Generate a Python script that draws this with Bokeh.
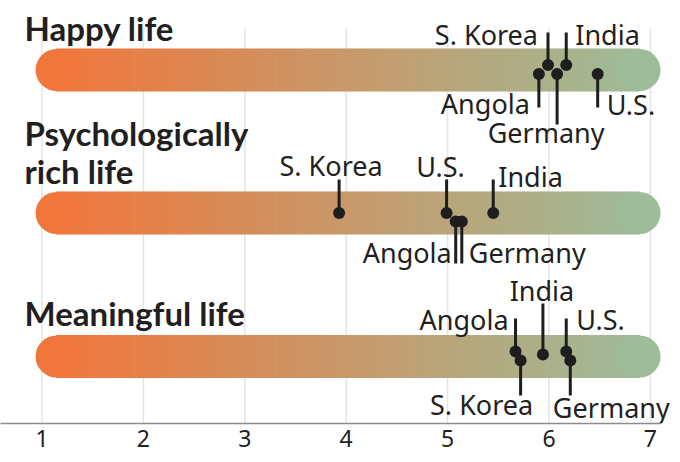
import numpy as np
from bokeh.plotting import figure
from bokeh.models import Range1d, ColumnDataSource, FixedTicker
from bokeh.core.properties import value
from bokeh.embed import file_html
from bokeh.resources import INLINE

# ---- data ----
countries = ["Angola", "Germany", "India", "S. Korea", "U.S."]
happy = [5.90, 6.08, 6.17, 5.99, 6.48]
psych = [5.08, 5.14, 5.45, 3.93, 4.99]
meaningful = [5.67, 6.21, 5.94, 5.72, 6.17]
row_titles = [["Happy life"], ["Psychologically", "rich life"], ["Meaningful life"]]
ticks = [1, 2, 3, 4, 5, 6, 7]

# ---- layout (pixels; y grows downward) ----
row_centers = [69.5, 212.5, 356.0]
title_baselines = [[27.0], [132.0, 170.5], [312.5]]
bar_lo, bar_hi = 0.936, 7.10       # bar extent on the value scale
bar_h = 42
# per label: dot dy, line-end dy, text dy, text dx, align
label_layout = [
    {"Angola": (4, 37.5, 33.5, -9, "right"), "Germany": (4, 54.5, 62.5, -11, "center"),
     "India": (-5, -37.5, -36, 9, "left"), "S. Korea": (-5, -37.5, -36, -10, "right"),
     "U.S.": (4, 37.5, 34.5, 9, "left")},
    {"Angola": (8.5, 50.5, 39.5, -4, "right"), "Germany": (8.5, 50.5, 39.5, 7, "left"),
     "India": (0, -33.5, -37, 5, "left"), "S. Korea": (0, -33.5, -48, -8, "center"),
     "U.S.": (0, -33.5, -47, -6, "center")},
    {"Angola": (-5, -38, -37.5, -7, "right"), "Germany": (4, 39, 51, 41, "center"),
     "India": (-2, -53, -66.5, -1, "center"), "S. Korea": (4, 39, 48, -39, "center"),
     "U.S.": (-5, -38, -37.5, 10, "left")},
]

W, H = 680, 462
AX_H = 39
px_per_unit = 101.4
x0 = 1 - 41.5 / px_per_unit
x1 = x0 + W / px_per_unit

p = figure(width=W, height=H, output_backend="svg", toolbar_location=None,
           x_range=Range1d(x0, x1), y_range=Range1d(H - AX_H, 0),
           y_axis_location=None, min_border_left=0, min_border_right=0,
           min_border_top=0, min_border_bottom=AX_H, outline_line_color=None)
p.grid.visible = False
p.background_fill_color = "white"

# grid lines
p.segment(x0=ticks, y0=[28] * len(ticks), x1=ticks, y1=[H - AX_H] * len(ticks),
          line_color="#e4e4e4", line_width=1.5)

# axis
ax = p.xaxis[0]
ax.ticker = FixedTicker(ticks=ticks)
ax.bounds = (x0, 7.1)
ax.axis_line_color = "#8c8c8c"
ax.axis_line_width = 1.5
ax.major_tick_line_color = None
ax.minor_tick_line_color = None
ax.major_label_text_font = "Noto Sans"
ax.major_label_text_font_size = "23px"
ax.major_label_text_color = "#222222"
ax.major_label_standoff = 0

# gradient bars
c_left = np.array([244, 116, 56])
c_right = np.array([155, 190, 156])

def grad_color(x):
    t = (x - bar_lo) / (bar_hi - bar_lo)
    c = (1 - t) * c_left + t * c_right
    return "#%02x%02x%02x" % tuple(int(round(v)) for v in c)

r_units = (bar_h / 2) / px_per_unit
xa, xb = bar_lo + r_units, bar_hi - r_units
N = 160
edges = np.linspace(xa, xb, N + 1)
for yc in row_centers:
    lefts = edges[:-1]
    rights = edges[1:]
    cols = [grad_color((l + r) / 2) for l, r in zip(lefts, rights)]
    p.quad(left=lefts, right=rights, top=[yc - bar_h / 2] * N, bottom=[yc + bar_h / 2] * N,
           fill_color=cols, line_color=cols, line_width=1.2)
    p.scatter(x=[xa, xb], y=[yc, yc], size=bar_h, marker="circle",
              fill_color=[grad_color(xa), grad_color(xb)], line_color=None)

# titles
tx, ty, tt = [], [], []
for lines, bases in zip(row_titles, title_baselines):
    for line, b in zip(lines, bases):
        tx.append(x0); ty.append(b); tt.append(line)
p.text(x=tx, y=ty, text=tt, x_offset=24, text_font=value("Lato"), text_font_style="bold",
       text_font_size="33px", text_color="#231f20", text_baseline="alphabetic", text_align="left")

# markers, leaders and labels
series = [happy, psych, meaningful]
for vals, yc, lay in zip(series, row_centers, label_layout):
    xs, dy, ly, ty_, tdx, al = [], [], [], [], [], []
    for c, v in zip(countries, vals):
        d, le, t, dx, a = lay[c]
        xs.append(v); dy.append(yc + d); ly.append(yc + le); ty_.append(yc + t)
        tdx.append(dx); al.append(a)
    p.segment(x0=xs, y0=dy, x1=xs, y1=ly, line_color="#1e1e1e", line_width=3)
    p.scatter(x=xs, y=dy, size=12, marker="circle", fill_color="#1e1e1e", line_color=None)
    src = ColumnDataSource(dict(x=xs, y=ty_, text=countries, dx=tdx, align=al))
    p.text(x="x", y="y", text="text", x_offset="dx", text_align="align", source=src,
           text_baseline="middle", text_font=value("Noto Sans"), text_font_size="27px",
           text_color="#231f20")

open("out.html", "w").write(file_html(p, INLINE))
